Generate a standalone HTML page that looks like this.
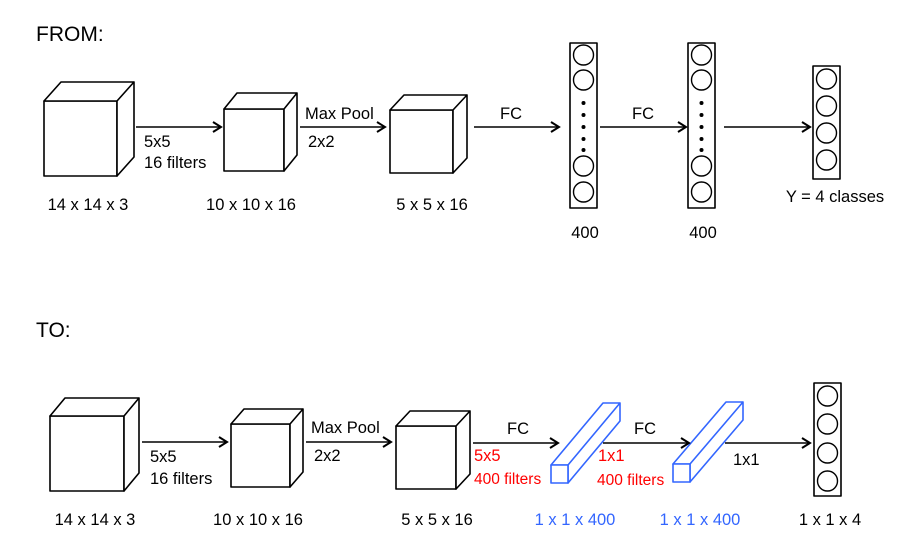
<!DOCTYPE html>
<html><head><meta charset="utf-8"><style>
html,body{margin:0;padding:0;background:#fff}
svg{display:block}
text{font-family:"Liberation Sans",sans-serif;font-size:16.5px;fill:#000}
.r{fill:#f00}.b{fill:#3366ff}
</style></head><body>
<svg width="900" height="551" viewBox="0 0 900 551" xmlns="http://www.w3.org/2000/svg">
<defs><marker id="a" markerWidth="12" markerHeight="12" refX="10" refY="6" orient="auto" markerUnits="userSpaceOnUse">
<polyline points="2,1 10,6 2,11" fill="none" stroke="#000" stroke-width="2"/></marker></defs>
<text x="36" y="41" style="font-size:21px">FROM:</text>
<text x="36" y="337" style="font-size:21px">TO:</text>
<g fill="#fff" stroke="#000" stroke-width="1.6" stroke-linejoin="round">
<rect x="44" y="101" width="73" height="75"/><path d="M44 101 L61 82 L134 82 L117 101Z M117 101 L134 82 L134 157 L117 176Z"/>
<rect x="224" y="109" width="60" height="62"/><path d="M224 109 L237 93 L297 93 L284 109Z M284 109 L297 93 L297 155 L284 171Z"/>
<rect x="390" y="110" width="63" height="63"/><path d="M390 110 L404 95 L467 95 L453 110Z M453 110 L467 95 L467 158 L453 173Z"/>
<rect x="50" y="416" width="74" height="75"/><path d="M50 416 L65 398 L139 398 L124 416Z M124 416 L139 398 L139 473 L124 491Z"/>
<rect x="231" y="424" width="59" height="63"/><path d="M231 424 L244 409 L303 409 L290 424Z M290 424 L303 409 L303 472 L290 487Z"/>
<rect x="396" y="426" width="60" height="63"/><path d="M396 426 L410 411 L470 411 L456 426Z M456 426 L470 411 L470 474 L456 489Z"/>
<rect x="570" y="43" width="27" height="165"/><rect x="688" y="43" width="27" height="165"/>
<rect x="813" y="66" width="27" height="113"/><rect x="814" y="383" width="27" height="113"/>
</g>
<g fill="#fff" stroke="#3366ff" stroke-width="1.6" stroke-linejoin="round">
<path d="M551 465 L603 403 L620 403 L568 465Z M568 465 L620 403 L620 421 L568 483Z"/><rect x="551" y="465" width="17" height="18"/>
<path d="M673 464 L726 402 L743 402 L690 464Z M690 464 L743 402 L743 420 L690 482Z"/><rect x="673" y="464" width="17" height="18"/>
</g>
<g fill="none" stroke="#000" stroke-width="1.4">
<circle cx="583.5" cy="55" r="10"/><circle cx="583.5" cy="80" r="10"/><circle cx="583.5" cy="166" r="10"/><circle cx="583.5" cy="192" r="10"/>
<circle cx="701.5" cy="55" r="10"/><circle cx="701.5" cy="80" r="10"/><circle cx="701.5" cy="166" r="10"/><circle cx="701.5" cy="192" r="10"/>
<circle cx="826.5" cy="79" r="10"/><circle cx="826.5" cy="106" r="10"/><circle cx="826.5" cy="133" r="10"/><circle cx="826.5" cy="160" r="10"/>
<circle cx="827.5" cy="396" r="10"/><circle cx="827.5" cy="424" r="10"/><circle cx="827.5" cy="453" r="10"/><circle cx="827.5" cy="481" r="10"/>
</g>
<g fill="#000">
<circle cx="583.5" cy="103" r="2"/><circle cx="583.5" cy="115" r="2"/><circle cx="583.5" cy="127" r="2"/><circle cx="583.5" cy="139" r="2"/><circle cx="583.5" cy="150" r="2"/>
<circle cx="701.5" cy="103" r="2"/><circle cx="701.5" cy="115" r="2"/><circle cx="701.5" cy="127" r="2"/><circle cx="701.5" cy="139" r="2"/><circle cx="701.5" cy="150" r="2"/>
</g>
<g stroke="#000" stroke-width="1.6" marker-end="url(#a)">
<line x1="136" y1="127" x2="221" y2="127"/><line x1="300" y1="127" x2="385" y2="127"/>
<line x1="474" y1="127" x2="559" y2="127"/><line x1="600" y1="127" x2="686" y2="127"/><line x1="724" y1="127" x2="810" y2="127"/>
<line x1="142" y1="442" x2="227" y2="442"/><line x1="306" y1="442" x2="391" y2="442"/>
<line x1="473" y1="443" x2="558" y2="443"/><line x1="603" y1="443" x2="689" y2="443"/><line x1="725" y1="443" x2="810" y2="443"/>
</g>
<text x="144" y="147">5x5</text><text x="144" y="168">16 filters</text>
<text x="305" y="119">Max Pool</text><text x="308" y="147">2x2</text>
<text x="500" y="119">FC</text><text x="632" y="119">FC</text>
<text x="88" y="210" text-anchor="middle">14 x 14 x 3</text>
<text x="251" y="210" text-anchor="middle">10 x 10 x 16</text>
<text x="432" y="210" text-anchor="middle">5 x 5 x 16</text>
<text x="585" y="238" text-anchor="middle">400</text><text x="703" y="238" text-anchor="middle">400</text>
<text x="835" y="202" text-anchor="middle">Y = 4 classes</text>
<text x="150" y="462">5x5</text><text x="150" y="484">16 filters</text>
<text x="311" y="433">Max Pool</text><text x="314" y="461">2x2</text>
<text x="507" y="434">FC</text><text x="634" y="434">FC</text>
<text class="r" x="474" y="461">5x5</text><text class="r" x="474" y="484" style="font-size:15.5px">400 filters</text>
<text class="r" x="598" y="461">1x1</text><text class="r" x="597" y="485" style="font-size:15.5px">400 filters</text>
<text x="733" y="465">1x1</text>
<text x="95" y="525" text-anchor="middle">14 x 14 x 3</text>
<text x="258" y="525" text-anchor="middle">10 x 10 x 16</text>
<text x="437" y="525" text-anchor="middle">5 x 5 x 16</text>
<text class="b" x="575" y="525" text-anchor="middle">1 x 1 x 400</text>
<text class="b" x="700" y="525" text-anchor="middle">1 x 1 x 400</text>
<text x="830" y="525" text-anchor="middle">1 x 1 x 4</text>
</svg>
</body></html>
